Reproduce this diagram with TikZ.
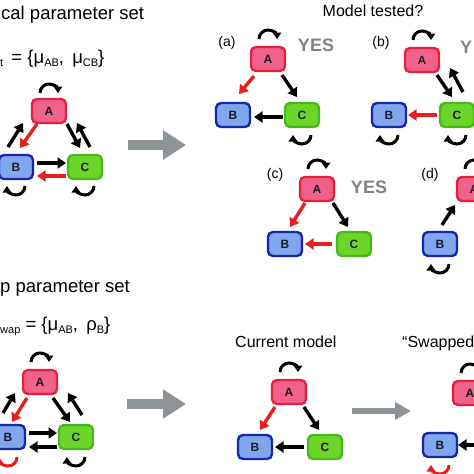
\documentclass[tikz,border=0pt]{standalone}
\usepackage{fontspec}
\setmainfont{Liberation Sans}
\usetikzlibrary{positioning,calc,arrows.meta}

\definecolor{boxApink}{RGB}{240,98,140}
\definecolor{boxAred}{RGB}{228,32,60}
\definecolor{boxBblue}{RGB}{128,166,238}
\definecolor{boxBnavy}{RGB}{22,40,168}
\definecolor{boxCgreen}{RGB}{108,214,40}
\definecolor{boxCdark}{RGB}{72,184,30}
\definecolor{arrred}{RGB}{232,30,30}
\definecolor{bigarr}{RGB}{140,148,151}
\definecolor{yesgray}{RGB}{125,131,136}
\definecolor{lbl}{RGB}{28,26,40}

\newcommand{\lowsub}[1]{\raisebox{-3pt}{\fontsize{11}{11}\selectfont #1}}

\tikzset{
    spec/.style={rectangle, rounded corners=5pt, line width=2.4pt,
        minimum width=34pt, minimum height=24pt, inner sep=0pt,
        font=\fontsize{12}{12}\selectfont\bfseries, text=lbl},
    specA/.style={spec, draw=boxAred, fill=boxApink},
    specB/.style={spec, draw=boxBnavy, fill=boxBblue},
    specC/.style={spec, draw=boxCdark, fill=boxCgreen},
    blk/.style={line width=3.4pt, -{Triangle[length=8.5pt,width=11pt]}},
    rd/.style={blk, color=arrred},
    self/.style={line width=3pt, -{Triangle[length=6.5pt,width=8.5pt]}},
    selfrd/.style={self, color=arrred},
    grayarr/.style={color=bigarr, line width=10pt, -{Triangle[length=23pt,width=28pt]}},
    thinarr/.style={color=bigarr, line width=6.5pt, -{Triangle[length=16pt,width=17pt]}},
    head/.style={inner sep=0pt, font=\fontsize{18.5}{20}\selectfont},
    sub/.style={inner sep=0pt, font=\fontsize{16}{18}\selectfont},
    tag/.style={inner sep=0pt, font=\fontsize{14}{16}\selectfont},
    yes/.style={inner sep=0pt, text=yesgray, font=\fontsize{18}{20}\selectfont\bfseries},
}

\begin{document}
\begin{tikzpicture}[x=1pt, y=-1pt, on grid]
    \useasboundingbox (0,0) rectangle (474,474);
    \clip (0,0) rectangle (474,474);

    % titles
    \node[head, anchor=base west] (tHead) at (1,19) {cal parameter set};
    \node[head, anchor=base west] (tSet) at (0,63) {\lowsub{t}\, = \{μ\lowsub{AB}, \,μ\lowsub{CB}\}};
    \node[head, anchor=base west] (sHead) at (0,292) {p parameter set};
    \node[head, anchor=base west] (sSet) at (0,330) {\lowsub{wap} = \{μ\lowsub{AB}, \,ρ\lowsub{B}\}};
    \node[sub, anchor=base] (tested) at (373,16) {Model tested?};
    \node[sub, anchor=base west] (current) at (235,347) {Current model};
    \node[sub, anchor=base west] (swapped) at (402,347) {“Swapped};

    % full network, top
    \node[specA] (tA) at (49,111) {A};
    \node[specB, below left=56pt and 33pt of tA] (tB) {B};
    \node[specC, below right=56pt and 36pt of tA] (tC) {C};
    \draw[blk] ($(tB)+(-8,-20)$) -- ($(tA)+(-26,12)$);
    \draw[rd] ($(tA)+(-12,13)$) -- ($(tB)+(4,-19)$);
    \draw[blk] ($(tA)+(18,13)$) -- ($(tC)+(-5,-19)$);
    \draw[blk] ($(tC)+(5,-20)$) -- ($(tA)+(28,12)$);
    \draw[blk] ($(tB)+(21,-4)$) -- ($(tC)+(-19,-4)$);
    \draw[rd] ($(tC)+(-19,9)$) -- ($(tB)+(21,9)$);
    \draw[self] ($(tA)+(-9,-18)$) arc[start angle=180, end angle=360, radius=9];
    \draw[self] ($(tB)+(9,19)$) arc[start angle=0, end angle=180, radius=9];
    \draw[self] ($(tC)+(9,19)$) arc[start angle=0, end angle=180, radius=9];

    \coordinate (g1s) at (128,145);
    \coordinate (g1e) at (186,145);
    \draw[grayarr] (g1s) -- (g1e);

    % (a)
    \node[tag] (la) at (227,43) {(a)};
    \node[yes] (ya) at (316,45) {YES};
    \node[specA] (aA) at (268,59) {A};
    \node[specB, below left=56pt and 35pt of aA] (aB) {B};
    \node[specC, below right=56pt and 34pt of aA] (aC) {C};
    \draw[rd] ($(aA)+(-14,17)$) -- ($(aB)+(6,-21)$);
    \draw[blk] ($(aA)+(14,16)$) -- ($(aC)+(-5,-18)$);
    \draw[blk] ($(aC)+(-19,2)$) -- ($(aB)+(21,2)$);
    \draw[self] ($(aA)+(-9,-20)$) arc[start angle=180, end angle=360, radius=9];
    \draw[self] ($(aC)+(9,20)$) arc[start angle=0, end angle=180, radius=9];

    % (b)
    \node[tag] (lb) at (381,43) {(b)};
    \node[yes, anchor=west] (yb) at (460,47) {Y};
    \node[specA] (bA) at (422,60) {A};
    \node[specB, below left=55pt and 33pt of bA] (bB) {B};
    \node[specC, below right=55pt and 35pt of bA] (bC) {C};
    \draw[blk] ($(bA)+(15,15)$) -- ($(bC)+(-5,-18)$);
    \draw[blk] ($(bC)+(6,-23)$) -- ($(bA)+(28,8)$);
    \draw[rd] ($(bC)+(-20,0)$) -- ($(bB)+(19,0)$);
    \draw[self] ($(bA)+(-9,-20)$) arc[start angle=180, end angle=360, radius=9];
    \draw[self] ($(bB)+(9,20)$) arc[start angle=0, end angle=180, radius=9];
    \draw[self] ($(bC)+(9,20)$) arc[start angle=0, end angle=180, radius=9];

    % (c)
    \node[tag] (lc) at (275,175) {(c)};
    \node[yes] (yc) at (369,187) {YES};
    \node[specA] (cA) at (317,189) {A};
    \node[specB, below left=55pt and 32pt of cA] (cB) {B};
    \node[specC, below right=55pt and 37pt of cA] (cC) {C};
    \draw[rd] ($(cA)+(-12,14)$) -- ($(cB)+(5,-17)$);
    \draw[blk] ($(cA)+(16,14)$) -- ($(cC)+(-6,-17)$);
    \draw[rd] ($(cC)+(-22,0)$) -- ($(cB)+(20,0)$);
    \draw[self] ($(cA)+(-9,-20)$) arc[start angle=180, end angle=360, radius=9];

    % (d)
    \node[tag] (ld) at (430,175) {(d)};
    \node[specA] (dA) at (474,189) {A};
    \node[specB, below left=55pt and 34pt of dA] (dB) {B};
    \draw[blk] ($(dB)+(2,-19)$) -- ($(dA)+(-19,16)$);
    \draw[self] ($(dA)+(-9,-20)$) arc[start angle=180, end angle=360, radius=9];
    \draw[self] ($(dB)+(9,20)$) arc[start angle=0, end angle=180, radius=9];

    % full network, bottom
    \node[specA] (sA) at (40,382) {A};
    \node[specB, below left=55pt and 32pt of sA] (sB) {B};
    \node[specC, below right=55pt and 36pt of sA] (sC) {C};
    \draw[blk] ($(sB)+(-5,-24)$) -- ($(sA)+(-25,11)$);
    \draw[rd] ($(sA)+(-13,16)$) -- ($(sB)+(4,-15)$);
    \draw[blk] ($(sA)+(13,16)$) -- ($(sC)+(-6,-15)$);
    \draw[blk] ($(sC)+(6,-22)$) -- ($(sA)+(28,11)$);
    \draw[blk] ($(sB)+(21,-4)$) -- ($(sC)+(-19,-4)$);
    \draw[blk] ($(sC)+(-19,10)$) -- ($(sB)+(21,10)$);
    \draw[self] ($(sA)+(-9,-20)$) arc[start angle=180, end angle=360, radius=9];
    \draw[selfrd] ($(sB)+(9,20)$) arc[start angle=0, end angle=180, radius=9];
    \draw[self] ($(sC)+(9,20)$) arc[start angle=0, end angle=180, radius=9];

    \coordinate (g2s) at (127,404);
    \coordinate (g2e) at (186,404);
    \draw[grayarr] (g2s) -- (g2e);

    % current model
    \node[specA] (mA) at (289,392) {A};
    \node[specB, below left=55pt and 34pt of mA] (mB) {B};
    \node[specC, below right=55pt and 36pt of mA] (mC) {C};
    \draw[rd] ($(mA)+(-14,15)$) -- ($(mB)+(5,-17)$);
    \draw[blk] ($(mA)+(15,15)$) -- ($(mC)+(-6,-17)$);
    \draw[blk] ($(mC)+(-21,0)$) -- ($(mB)+(20,0)$);
    \draw[self] ($(mA)+(-9,-20)$) arc[start angle=180, end angle=360, radius=9];

    \coordinate (g3s) at (352,411);
    \coordinate (g3e) at (411,411);
    \draw[thinarr] (g3s) -- (g3e);

    % swapped model
    \node[specA] (wA) at (470,393) {A};
    \node[specB, below left=52pt and 30pt of wA] (wB) {B};
    \coordinate (wcut) at (476,445);
    \draw[blk] (wcut) -- ($(wB)+(18,0)$);
    \draw[self] ($(wA)+(-9,-20)$) arc[start angle=180, end angle=360, radius=9];
    \draw[selfrd] ($(wB)+(9,20)$) arc[start angle=0, end angle=180, radius=9];
\end{tikzpicture}
\end{document}
